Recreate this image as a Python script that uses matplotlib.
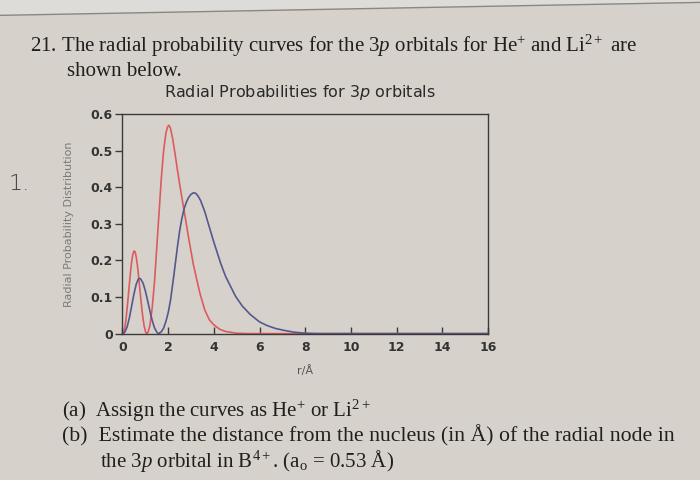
import matplotlib
matplotlib.use("Agg")
import matplotlib.pyplot as plt
from matplotlib.patches import Polygon
from matplotlib.lines import Line2D

# values (r in Angstrom, radial probability)
r_red = [0, 0.05, 0.1, 0.15, 0.2, 0.25, 0.3, 0.35, 0.4, 0.45, 0.5, 0.55, 0.6,
         0.65, 0.7, 0.75, 0.8, 0.85, 0.9, 0.95, 1.0, 1.04, 1.07, 1.12, 1.2, 1.3,
         1.4, 1.5, 1.6, 1.7, 1.8, 1.9, 1.97, 2.03, 2.1, 2.2, 2.3, 2.4, 2.5, 2.6,
         2.7, 2.8, 2.9, 3.0, 3.1, 3.25, 3.4, 3.6, 3.8, 4.0, 4.25, 4.5, 5.0, 5.5, 16]
p_red = [0, 0.003, 0.015, 0.038, 0.068, 0.10, 0.135, 0.168, 0.196, 0.216, 0.226,
         0.224, 0.21, 0.188, 0.16, 0.128, 0.096, 0.066, 0.04, 0.02, 0.007, 0.001,
         0, 0.004, 0.022, 0.07, 0.14, 0.235, 0.33, 0.425, 0.5, 0.548, 0.565, 0.57,
         0.562, 0.532, 0.492, 0.45, 0.41, 0.372, 0.336, 0.298, 0.26, 0.225, 0.19,
         0.148, 0.108, 0.065, 0.038, 0.024, 0.012, 0.006, 0.001, 0, 0]

r_blue = [0, 0.05, 0.1, 0.2, 0.3, 0.4, 0.5, 0.6, 0.7, 0.75, 0.8, 0.9, 1.0, 1.1,
          1.2, 1.3, 1.4, 1.5, 1.59, 1.7, 1.8, 1.9, 2.0, 2.1, 2.25, 2.4, 2.5, 2.6,
          2.7, 2.8, 2.9, 3.0, 3.1, 3.2, 3.3, 3.42, 3.6, 3.78, 4.0, 4.15, 4.3, 4.51,
          4.75, 4.95, 5.25, 5.6, 6.0, 6.33, 6.7, 7.06, 7.5, 8.0, 8.5, 16]
p_blue = [0, 0.001, 0.004, 0.018, 0.043, 0.075, 0.108, 0.135, 0.15, 0.151, 0.149,
          0.138, 0.117, 0.09, 0.062, 0.036, 0.016, 0.004, 0, 0.005, 0.015, 0.033,
          0.057, 0.09, 0.16, 0.235, 0.28, 0.315, 0.342, 0.36, 0.373, 0.381, 0.385,
          0.384, 0.377, 0.364, 0.334, 0.296, 0.25, 0.221, 0.192, 0.157, 0.127,
          0.102, 0.075, 0.052, 0.032, 0.022, 0.014, 0.009, 0.004, 0.001, 0, 0]

x_ticks = [0, 2, 4, 6, 8, 10, 12, 14, 16]
y_ticks = [0, 0.1, 0.2, 0.3, 0.4, 0.5, 0.6]
y_tick_labels = ["0", "0.1", "0.2", "0.3", "0.4", "0.5", "0.6"]

PAPER = "#d6d2cb"
INK = "#1f1f1f"
AXIS = "#3a3a3a"

plt.rcParams["mathtext.fontset"] = "custom"
plt.rcParams["mathtext.rm"] = "Liberation Serif"
plt.rcParams["mathtext.it"] = "Liberation Serif:italic"
plt.rcParams["mathtext.sf"] = "DejaVu Sans:italic"

fig = plt.figure(figsize=(7, 4.8), dpi=100, facecolor=PAPER)

# page edge at the top of the photo
fig.add_artist(Polygon([[0, 1], [1, 1], [1, 0.995], [0, 0.968]], closed=True,
                       transform=fig.transFigure, facecolor="#dedcd8", edgecolor="none"))
fig.add_artist(Line2D([0, 1], [0.968, 0.995], transform=fig.transFigure,
                      color="#8a8782", lw=1.0))

ax = fig.add_axes([0.175, 0.305, 0.522, 0.457])
ax.set_facecolor(PAPER)
ax.plot(r_red, p_red, color="#dd5a5e", lw=1.2)
ax.plot(r_blue, p_blue, color="#56578f", lw=1.2)

ax.set_xlim(0, 16)
ax.set_ylim(0, 0.6)
ax.set_xticks(x_ticks)
ax.set_yticks(y_ticks)
ax.set_yticklabels(y_tick_labels)
for s in ax.spines.values():
    s.set_color(AXIS)
    s.set_linewidth(1.0)
ax.tick_params(axis="x", direction="in", length=5, width=1, color=AXIS,
               labelsize=9, labelcolor="#333333", pad=5)
ax.tick_params(axis="y", direction="out", length=5, width=1, color=AXIS,
               labelsize=9, labelcolor="#333333", pad=2)
for lab in ax.get_xticklabels() + ax.get_yticklabels():
    lab.set_fontweight("bold")

ax.set_xlabel("r/Å", fontsize=8, color="#555555", labelpad=8)
ax.set_ylabel("Radial Probability Distribution", fontsize=8, color="#7a7a7a", labelpad=12)
fig.text(300 / 700, 1 - 92 / 480, r"Radial Probabilities for 3$\mathsf{p}$ orbitals",
         fontsize=11.5, color="#2a2a2a", ha="center", va="center")

serif = dict(family="Liberation Serif", color=INK, va="center")
fig.text(0.043, 0.905, r"21. The radial probability curves for the 3$p$ orbitals for He$^{+}$ and Li$^{2+}$ are",
         fontsize=15, **serif)
fig.text(0.096, 0.852, "shown below.", fontsize=15, **serif)
fig.text(0.088, 0.145, r"(a)  Assign the curves as He$^{+}$ or Li$^{2+}$", fontsize=15, **serif)
fig.text(0.088, 0.092, r"(b)  Estimate the distance from the nucleus (in Å) of the radial node in",
         fontsize=15.7, **serif)
fig.text(0.143, 0.040, r"the 3$p$ orbital in B$^{4+}$. (a$_{\rm o}$ = 0.53 Å)", fontsize=15, **serif)

# handwritten mark on the left margin
fig.text(0.012, 0.605, "1.", fontsize=16, color="#3a3a3a", family="DejaVu Sans",
         fontweight="light")

fig.savefig("out.png", dpi=100, facecolor=PAPER)
